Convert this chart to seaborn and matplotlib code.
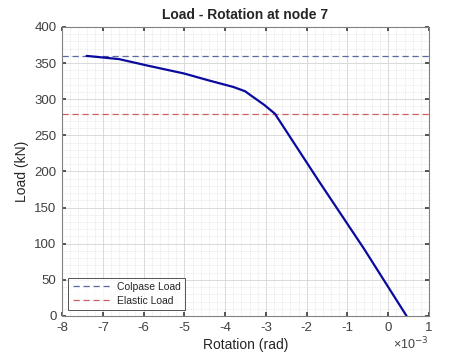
import matplotlib
matplotlib.use("Agg")
import matplotlib.pyplot as plt
from matplotlib.ticker import MultipleLocator
import numpy as np
import pandas as pd
import seaborn as sns

# rotation in 1e-3 rad, load in kN
ROTATION = [-7.40, -6.60, -5.90, -5.00, -4.40, -3.80, -3.51, -3.35, -3.05, -2.78, -1.70, -0.60, 0.45]
LOAD = [360.0, 355.5, 346.5, 335.5, 326.0, 317.0, 311.0, 304.5, 292.5, 280.0, 186.5, 93.5, 0.0]
COLLAPSE_LOAD = 360.0
ELASTIC_LOAD = 280.0

sns.set_theme(style="white")
plt.rcParams["font.family"] = ["Liberation Sans", "DejaVu Sans"]
plt.rcParams["axes.unicode_minus"] = False

df = pd.DataFrame({"rotation": ROTATION, "load": LOAD})

fig = plt.figure(figsize=(4.74, 3.55), dpi=100)
ax = fig.add_axes([0.131, 0.110, 0.774, 0.814])

ax.axhline(COLLAPSE_LOAD, color="#5a6aa0", linestyle=(0, (5, 3)), linewidth=0.9, label="Colpase Load")
ax.axhline(ELASTIC_LOAD, color="#cc6060", linestyle=(0, (5, 3)), linewidth=0.9, label="Elastic Load")
sns.lineplot(data=df, x="rotation", y="load", ax=ax, color="#0a0aa0", linewidth=1.6,
             sort=False, legend=False)

ax.set_xlim(-8, 1)
ax.set_ylim(0, 400)
ax.xaxis.set_major_locator(MultipleLocator(1))
ax.xaxis.set_minor_locator(MultipleLocator(0.2))
ax.yaxis.set_major_locator(MultipleLocator(50))
ax.yaxis.set_minor_locator(MultipleLocator(10))
ax.grid(which="major", color="#d4d4d4", linewidth=0.6)
ax.grid(which="minor", color="#e4e4e4", linewidth=0.5, linestyle=(0, (1.5, 1)))
ax.set_axisbelow(True)

ax.tick_params(which="both", direction="in", colors="#404040", labelsize=9.5,
               top=True, right=True, bottom=True, left=True)
ax.tick_params(which="major", length=3, pad=4)
ax.tick_params(which="minor", length=0)
for spine in ax.spines.values():
    spine.set_color("#808080")
    spine.set_linewidth(0.8)

ax.set_xlabel("Rotation (rad)", fontsize=10, color="#262626", labelpad=3)
ax.set_ylabel("Load (kN)", fontsize=10, color="#262626", labelpad=4)
ax.set_title("Load - Rotation at node 7", fontsize=10, fontweight="bold", pad=6)
ax.text(1.0, -0.117, "×10$^{-3}$", transform=ax.transAxes, ha="right", va="baseline",
        fontsize=9, color="#404040")

handles, labels = ax.get_legend_handles_labels()
leg = ax.legend(handles[:2], labels[:2], loc="lower left", fontsize=7.5, frameon=True,
                fancybox=False, edgecolor="#262626", handlelength=3.8, handletextpad=0.5,
                borderaxespad=0.6, labelspacing=0.35, borderpad=0.4)
leg.get_frame().set_linewidth(0.7)

fig.savefig("out.png", dpi=100)
